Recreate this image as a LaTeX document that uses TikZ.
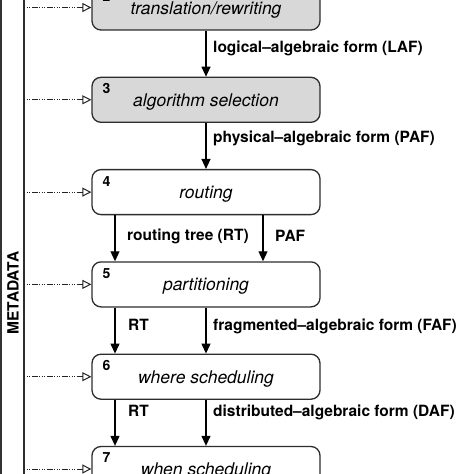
\documentclass[tikz,border=0pt]{standalone}
\usepackage{fontspec}
\setmainfont{TeX Gyre Heros}
\usepackage{tikz}
\usetikzlibrary{positioning,arrows.meta}
\definecolor{stagegray}{RGB}{216, 216, 216}
\definecolor{edgegray}{RGB}{45, 45, 45}
\definecolor{metagray}{RGB}{35, 35, 35}

\tikzset{
    stage/.style={draw=edgegray, line width=1.3pt, rounded corners=9pt, minimum width=228pt, minimum height=45pt,
        text height=15pt, text depth=2pt, font=\fontsize{17.5}{20}\selectfont\itshape},
    greystage/.style={stage, fill=stagegray},
    stagenum/.style={anchor=north west, inner sep=0pt, font=\fontsize{14}{16}\selectfont\bfseries},
    flow/.style={draw=black, line width=1.2pt, -{Triangle[length=10pt,width=9pt]}},
    metaflow/.style={draw=metagray, line width=1pt, dash pattern=on 1pt off 1.5pt on 1pt off 1.5pt on 1pt off 1.5pt on 6pt off 1.5pt,
        -{Triangle[open,length=9pt,width=9pt]}},
    formlabel/.style={anchor=west, inner sep=0pt, font=\fontsize{15.5}{18}\selectfont\bfseries}
}

\begin{document}
\begin{tikzpicture}[x=1pt, y=-1pt]
    \useasboundingbox (0,0) rectangle (474,474);
    \clip (0,0) rectangle (474,474);
    \fill[black!80] (0,0) rectangle (2,474);

    % stages
    \node[greystage] (trans) at (206,7.5) {translation/rewriting};
    \node[greystage, below=46pt of trans] (algsel) {algorithm selection};
    \node[stage, below=46pt of algsel] (routing) {routing};
    \node[stage, below=46pt of routing] (part) {partitioning};
    \node[stage, below=46pt of part] (where) {where scheduling};
    \node[stage, below=46pt of where] (when) {when scheduling};

    \node[stagenum] at ([xshift=11pt,yshift=-7pt]trans.north west) {2};
    \node[stagenum] at ([xshift=11pt,yshift=-7pt]algsel.north west) {3};
    \node[stagenum] at ([xshift=11pt,yshift=-7pt]routing.north west) {4};
    \node[stagenum] at ([xshift=11pt,yshift=-7pt]part.north west) {5};
    \node[stagenum] at ([xshift=11pt,yshift=-7pt]where.north west) {6};
    \node[stagenum] at ([xshift=11pt,yshift=-7pt]when.north west) {7};

    % data between stages
    \draw[flow] (trans.south) -- (algsel.north);
    \draw[flow] (algsel.south) -- (routing.north);
    \draw[flow] ([xshift=-91pt]routing.south) -- ([xshift=-91pt]part.north);
    \draw[flow] ([xshift=57pt]routing.south) -- ([xshift=57pt]part.north);
    \draw[flow] ([xshift=-91pt]part.south) -- ([xshift=-91pt]where.north);
    \draw[flow] (part.south) -- (where.north);
    \draw[flow] ([xshift=-91pt]where.south) -- ([xshift=-91pt]when.north);
    \draw[flow] (where.south) -- (when.north);

    \node[formlabel] (laf) at (213,48) {logical--algebraic form (LAF)};
    \node[formlabel] (paf) at (213,138) {physical--algebraic form (PAF)};
    \node[formlabel] (rtree) at (127,236) {routing tree (RT)};
    \node[formlabel] (paf2) at (275,236) {PAF};
    \node[formlabel] (rt1) at (128,325) {RT};
    \node[formlabel] (faf) at (213,326) {fragmented--algebraic form (FAF)};
    \node[formlabel] (rt2) at (128,411) {RT};
    \node[formlabel] (daf) at (213,412) {distributed--algebraic form (DAF)};

    % metadata
    \coordinate (mtop) at (24,0);
    \coordinate (mbot) at (24,474);
    \draw[line width=1.2pt, edgegray] (mtop) -- (mbot);
    \node[rotate=90, inner sep=0pt, font=\fontsize{15.5}{18}\selectfont\bfseries] (meta) at (13,293) {METADATA};

    \draw[metaflow] (trans.west -| mtop) -- (trans.west);
    \draw[metaflow] (algsel.west -| mtop) -- (algsel.west);
    \draw[metaflow] (routing.west -| mtop) -- (routing.west);
    \draw[metaflow] (part.west -| mtop) -- (part.west);
    \draw[metaflow] (where.west -| mtop) -- (where.west);
    \draw[metaflow] (when.west -| mtop) -- (when.west);
\end{tikzpicture}
\end{document}
